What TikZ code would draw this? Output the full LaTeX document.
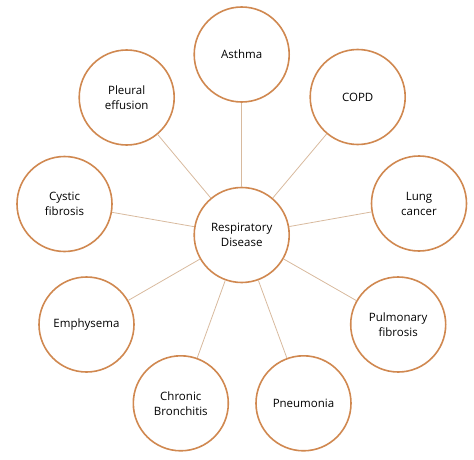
\documentclass[tikz,border=0pt]{standalone}
\usepackage{fontspec}
\setmainfont{Open Sans}
\definecolor{ring}{RGB}{208,136,80}
\definecolor{link}{RGB}{216,186,158}
\begin{document}
\begin{tikzpicture}[x=1pt,y=-1pt,
  disease/.style={circle,draw=ring,line width=1.6pt,fill=white,minimum size=95pt,inner sep=0pt,
    align=center,font=\fontsize{11.5}{15}\selectfont,text=black},
  linkline/.style={draw=link,line width=0.8pt}]
\useasboundingbox (0,0) rectangle (474,460);
\node[disease] (c) at (241.7,235) {Respiratory\\Disease};
\node[disease] (asthma) at (241.7,54.5) {Asthma};
\node[disease] (copd) at (357.7,97) {COPD};
\node[disease] (lung) at (419,203.5) {Lung\\cancer};
\node[disease] (pulm) at (398.2,324.5) {Pulmonary\\fibrosis};
\node[disease] (pneu) at (303.5,403.3) {Pneumonia};
\node[disease] (chron) at (180.8,403.3) {Chronic\\Bronchitis};
\node[disease] (emph) at (86.5,324.5) {Emphysema};
\node[disease] (cyst) at (64.5,204) {Cystic\\fibrosis};
\node[disease] (pleu) at (126.7,97.5) {Pleural\\effusion};
\foreach \n in {asthma,copd,lung,pulm,pneu,chron,emph,cyst,pleu}
  \path[linkline] (c) -- (\n);
\end{tikzpicture}
\end{document}
